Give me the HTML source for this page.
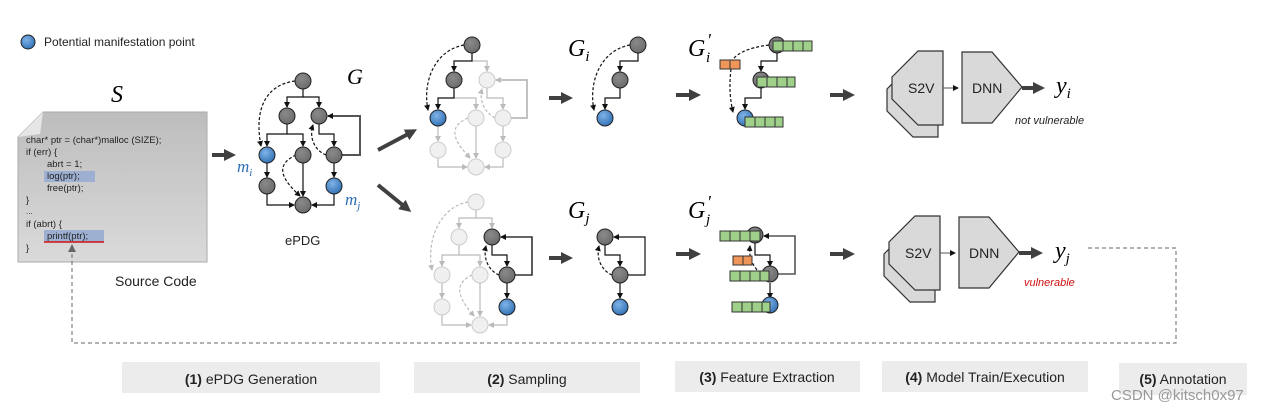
<!DOCTYPE html>
<html><head><meta charset="utf-8"><style>
body{margin:0;background:#fff;width:1264px;height:410px;overflow:hidden}
svg{display:block}
.it{font-family:"Liberation Serif",serif;font-style:italic}
.sans{font-family:"Liberation Sans",sans-serif}
</style></head><body>
<svg width="1264" height="410" viewBox="0 0 1264 410" xmlns="http://www.w3.org/2000/svg">
<defs>
<marker id="a" markerWidth="6" markerHeight="6" refX="5" refY="3" orient="auto" markerUnits="userSpaceOnUse"><path d="M0,0L6,3L0,6z" fill="#111"/></marker>
<marker id="g" markerWidth="6" markerHeight="6" refX="5" refY="3" orient="auto" markerUnits="userSpaceOnUse"><path d="M0,0L6,3L0,6z" fill="#bbb"/></marker>
<marker id="t" markerWidth="12" markerHeight="12" refX="4" refY="6" orient="auto" markerUnits="userSpaceOnUse"><path d="M0,0L12,6L0,12z" fill="#404040"/></marker>
<linearGradient id="pg" x1="0" y1="0" x2="0" y2="1"><stop offset="0" stop-color="#bdbdbd"/><stop offset="1" stop-color="#dadada"/></linearGradient>
<radialGradient id="bl" cx="0.4" cy="0.35" r="0.7"><stop offset="0" stop-color="#7fb3e6"/><stop offset="1" stop-color="#2f6fb5"/></radialGradient>
<radialGradient id="dk" cx="0.4" cy="0.35" r="0.7"><stop offset="0" stop-color="#8a8a8a"/><stop offset="1" stop-color="#6a6a6a"/></radialGradient>
</defs>
<g class="sans">
<circle cx="28" cy="42" r="7" fill="url(#bl)" stroke="#222" stroke-width="1"/>
<text x="44" y="46" font-size="12" fill="#222">Potential manifestation point</text>
</g>
<text x="111" y="102" class="it" font-size="24">S</text>
<polygon points="43,112 207,112 207,262 18,262 18,137" fill="url(#pg)" stroke="#aaa"/>
<polygon points="18,137 43,112 40,134" fill="#e6e6e6"/>
<rect x="44" y="171" width="51" height="11" fill="#9eb0d2"/>
<rect x="44" y="230" width="60" height="12" fill="#9eb0d2"/>
<line x1="44" y1="242" x2="104" y2="242" stroke="#d01010" stroke-width="1.5"/>
<g class="sans" font-size="9.5" fill="#222">
<text x="26" y="143">char* ptr = (char*)malloc (SIZE);</text>
<text x="26" y="155">if (err) {</text>
<text x="47" y="167">abrt = 1;</text>
<text x="47" y="179">log(ptr);</text>
<text x="47" y="191">free(ptr);</text>
<text x="26" y="203">}</text>
<text x="26" y="214" font-size="8">...</text>
<text x="26" y="227">if (abrt) {</text>
<text x="47" y="239">printf(ptr);</text>
<text x="26" y="251">}</text>
</g>
<text x="115" y="286" class="sans" font-size="14" fill="#222">Source Code</text>
<line x1="212" y1="155" x2="228" y2="155" stroke="#404040" stroke-width="4" marker-end="url(#t)"/>

<!-- ePDG -->
<g fill="none" stroke="#111" stroke-width="1.2">
<path d="M303,89V97H287V107" marker-end="url(#a)"/><path d="M303,97H319V107" marker-end="url(#a)"/>
<path d="M287,124V134H267V146" marker-end="url(#a)"/><path d="M287,134H303V146" marker-end="url(#a)"/>
<path d="M319,124V134H334V146" marker-end="url(#a)"/>
<path d="M342,155H360V116H328" stroke="#555" stroke-width="2" marker-end="url(#a)"/>
<path d="M267,163V177" marker-end="url(#a)"/><path d="M267,194V205H294" marker-end="url(#a)"/>
<path d="M334,194V205H312" marker-end="url(#a)"/><path d="M303,163V196" marker-end="url(#a)"/>
<path d="M334,163V177" marker-end="url(#a)"/>
<g stroke-dasharray="3,2"><path d="M295,81C265,85 254,110 261,146" marker-end="url(#a)"/><path d="M326,155C314,150 309,137 313,125" marker-end="url(#a)"/><path d="M296,155C272,166 285,182 300,196" marker-end="url(#a)"/></g>
</g>
<g stroke="#222" stroke-width="1">
<circle cx="303" cy="81" r="8" fill="url(#dk)"/><circle cx="287" cy="116" r="8" fill="url(#dk)"/><circle cx="319" cy="116" r="8" fill="url(#dk)"/>
<circle cx="267" cy="155" r="8" fill="url(#bl)"/><circle cx="303" cy="155" r="8" fill="url(#dk)"/><circle cx="334" cy="155" r="8" fill="url(#dk)"/>
<circle cx="267" cy="186" r="8" fill="url(#dk)"/><circle cx="334" cy="186" r="8" fill="url(#bl)"/><circle cx="303" cy="205" r="8" fill="url(#dk)"/>
</g>
<text x="347" y="84" class="it" font-size="22">G</text>
<text x="237" y="172" class="it" font-size="17" fill="#2f6fb5">m<tspan font-size="11" dy="4">i</tspan></text>
<text x="345" y="205" class="it" font-size="17" fill="#2f6fb5">m<tspan font-size="11" dy="4">j</tspan></text>
<text x="285" y="245" class="sans" font-size="13" fill="#222">ePDG</text>

<line x1="378" y1="150" x2="410" y2="133" stroke="#404040" stroke-width="4" marker-end="url(#t)"/>
<line x1="378" y1="185" x2="405" y2="207" stroke="#404040" stroke-width="4" marker-end="url(#t)"/>

<!-- Sampling top -->
<g fill="none" stroke="#bbb" stroke-width="1.2">
<path d="M472,53V61H487V71" marker-end="url(#g)"/>
<path d="M454,88V98H476V109" marker-end="url(#g)"/>
<path d="M487,88V98H503V109" marker-end="url(#g)"/>
<path d="M511,118H527V80H496" stroke-width="1.8" marker-end="url(#g)"/>
<path d="M438,126V141" marker-end="url(#g)"/><path d="M438,158V167H467" marker-end="url(#g)"/>
<path d="M503,158V167H485" marker-end="url(#g)"/><path d="M476,126V158" marker-end="url(#g)"/><path d="M503,126V141" marker-end="url(#g)"/>
<g stroke-dasharray="3,2"><path d="M495,118C484,112 479,100 482,89" marker-end="url(#g)"/><path d="M468,118C444,128 458,145 470,158" marker-end="url(#g)"/></g>
</g>
<g fill="none" stroke="#111" stroke-width="1.2">
<path d="M472,53V61H454V71" marker-end="url(#a)"/><path d="M454,88V98H438V109" marker-end="url(#a)"/>
<path d="M464,45C436,50 422,80 428,110" stroke-dasharray="3,2" marker-end="url(#a)"/>
</g>
<g stroke-width="1">
<circle cx="472" cy="45" r="8" fill="url(#dk)" stroke="#222"/><circle cx="454" cy="80" r="8" fill="url(#dk)" stroke="#222"/>
<circle cx="487" cy="80" r="8" fill="#f0f0f0" stroke="#ccc"/><circle cx="438" cy="118" r="8" fill="url(#bl)" stroke="#222"/>
<circle cx="476" cy="118" r="8" fill="#f0f0f0" stroke="#ccc"/><circle cx="503" cy="118" r="8" fill="#f0f0f0" stroke="#ccc"/>
<circle cx="438" cy="150" r="8" fill="#f0f0f0" stroke="#ccc"/><circle cx="503" cy="150" r="8" fill="#f0f0f0" stroke="#ccc"/>
<circle cx="476" cy="167" r="8" fill="#f0f0f0" stroke="#ccc"/>
</g>

<!-- Sampling bottom -->
<g fill="none" stroke="#bbb" stroke-width="1.2">
<path d="M476,210V218H459V228" marker-end="url(#g)"/><path d="M476,218H492V228" marker-end="url(#g)"/>
<path d="M459,245V255H442V266" marker-end="url(#g)"/><path d="M459,255H480V266" marker-end="url(#g)"/>
<path d="M442,283V298" marker-end="url(#g)"/><path d="M442,315V325H471" marker-end="url(#g)"/>
<path d="M507,315V325H489" marker-end="url(#g)"/><path d="M480,283V316" marker-end="url(#g)"/>
<g stroke-dasharray="3,2"><path d="M468,202C440,207 426,240 432,270" marker-end="url(#g)"/><path d="M472,275C450,285 462,302 474,316" marker-end="url(#g)"/></g>
</g>
<g fill="none" stroke="#111" stroke-width="1.2">
<path d="M492,245V255H507V266" marker-end="url(#a)"/>
<path d="M515,275H532V237H501" stroke="#333" stroke-width="1.6" marker-end="url(#a)"/>
<path d="M507,283V298" marker-end="url(#a)"/>
<path d="M499,275C488,270 483,258 486,246" stroke-dasharray="3,2" marker-end="url(#a)"/>
</g>
<g stroke-width="1">
<circle cx="476" cy="202" r="8" fill="#f0f0f0" stroke="#ccc"/><circle cx="459" cy="237" r="8" fill="#f0f0f0" stroke="#ccc"/>
<circle cx="492" cy="237" r="8" fill="url(#dk)" stroke="#222"/><circle cx="442" cy="275" r="8" fill="#f0f0f0" stroke="#ccc"/>
<circle cx="480" cy="275" r="8" fill="#f0f0f0" stroke="#ccc"/><circle cx="507" cy="275" r="8" fill="url(#dk)" stroke="#222"/>
<circle cx="442" cy="307" r="8" fill="#f0f0f0" stroke="#ccc"/><circle cx="507" cy="307" r="8" fill="url(#bl)" stroke="#222"/>
<circle cx="480" cy="325" r="8" fill="#f0f0f0" stroke="#ccc"/>
</g>

<line x1="549" y1="98" x2="565" y2="98" stroke="#404040" stroke-width="4" marker-end="url(#t)"/>
<line x1="549" y1="258" x2="565" y2="258" stroke="#404040" stroke-width="4" marker-end="url(#t)"/>

<!-- Gi -->
<text x="568" y="56" class="it" font-size="24">G<tspan font-size="15" dy="5">i</tspan></text>
<g fill="none" stroke="#111" stroke-width="1.2">
<path d="M638,53V61H620V71" marker-end="url(#a)"/><path d="M620,88V98H605V109" marker-end="url(#a)"/>
<path d="M630,45C602,50 588,80 594,110" stroke-dasharray="3,2" marker-end="url(#a)"/>
</g>
<circle cx="638" cy="45" r="8" fill="url(#dk)" stroke="#222"/><circle cx="620" cy="80" r="8" fill="url(#dk)" stroke="#222"/><circle cx="605" cy="118" r="8" fill="url(#bl)" stroke="#222"/>

<!-- Gj -->
<text x="568" y="218" class="it" font-size="24">G<tspan font-size="15" dy="5">j</tspan></text>
<g fill="none" stroke="#111" stroke-width="1.2">
<path d="M605,245V255H620V266" marker-end="url(#a)"/>
<path d="M628,275H645V237H614" marker-end="url(#a)"/>
<path d="M620,283V298" marker-end="url(#a)"/>
<path d="M612,275C601,270 596,258 599,246" stroke-dasharray="3,2" marker-end="url(#a)"/>
</g>
<circle cx="605" cy="237" r="8" fill="url(#dk)" stroke="#222"/><circle cx="620" cy="275" r="8" fill="url(#dk)" stroke="#222"/><circle cx="620" cy="307" r="8" fill="url(#bl)" stroke="#222"/>

<line x1="676" y1="95" x2="693" y2="95" stroke="#404040" stroke-width="4" marker-end="url(#t)"/>
<line x1="676" y1="254" x2="693" y2="254" stroke="#404040" stroke-width="4" marker-end="url(#t)"/>

<!-- G'i -->
<text x="688" y="56" class="it" font-size="24">G</text>
<text x="707" y="46" class="it" font-size="18">′</text>
<text x="706" y="62" class="it" font-size="15">i</text>
<g fill="none" stroke="#111" stroke-width="1.2">
<path d="M777,53V61H761V71" marker-end="url(#a)"/><path d="M761,88V98H745V109" marker-end="url(#a)"/>
<path d="M769,45C745,48 735,55 731,62" stroke-dasharray="3,2"/>
<path d="M731,69C729,85 730,100 733,112" stroke-dasharray="3,2" marker-end="url(#a)"/>
</g>
<circle cx="777" cy="45" r="8" fill="url(#dk)" stroke="#222"/><circle cx="761" cy="80" r="8" fill="url(#dk)" stroke="#222"/><circle cx="745" cy="118" r="8" fill="url(#bl)" stroke="#222"/>
<g stroke="#333" stroke-width="1" fill="#9fd08a">
<rect x="773" y="41" width="10" height="10"/><rect x="783" y="41" width="10" height="10"/><rect x="793" y="41" width="10" height="10"/><rect x="803" y="41" width="9" height="10"/>
<rect x="757" y="77" width="10" height="10"/><rect x="767" y="77" width="10" height="10"/><rect x="777" y="77" width="10" height="10"/><rect x="787" y="77" width="8" height="10"/>
<rect x="745" y="117" width="10" height="10"/><rect x="755" y="117" width="10" height="10"/><rect x="765" y="117" width="10" height="10"/><rect x="775" y="117" width="8" height="10"/>
</g>
<g stroke="#333" stroke-width="1" fill="#f0965a"><rect x="720" y="60" width="10" height="9"/><rect x="730" y="60" width="10" height="9"/></g>

<!-- G'j -->
<text x="688" y="218" class="it" font-size="24">G</text>
<text x="707" y="208" class="it" font-size="18">′</text>
<text x="706" y="224" class="it" font-size="15">j</text>
<g fill="none" stroke="#111" stroke-width="1.2">
<path d="M755,243V255H770V266" marker-end="url(#a)"/>
<path d="M778,274H795V236H764" stroke="#555" stroke-width="1.6" marker-end="url(#a)"/>
<path d="M770,283V298" marker-end="url(#a)"/>
<path d="M757,270C751,262 749,256 750,246" stroke-dasharray="3,2" marker-end="url(#a)"/>
</g>
<circle cx="755" cy="235" r="8" fill="url(#dk)" stroke="#222"/><circle cx="770" cy="274" r="8" fill="url(#dk)" stroke="#222"/><circle cx="770" cy="305" r="8" fill="url(#bl)" stroke="#222"/>
<g stroke="#333" stroke-width="1" fill="#9fd08a">
<rect x="720" y="231" width="10" height="10"/><rect x="730" y="231" width="10" height="10"/><rect x="740" y="231" width="10" height="10"/><rect x="750" y="231" width="10" height="10"/>
<rect x="730" y="271" width="10" height="10"/><rect x="740" y="271" width="10" height="10"/><rect x="750" y="271" width="10" height="10"/><rect x="760" y="271" width="9" height="10"/>
<rect x="732" y="302" width="10" height="10"/><rect x="742" y="302" width="10" height="10"/><rect x="752" y="302" width="10" height="10"/><rect x="762" y="302" width="8" height="10"/>
</g>
<g stroke="#333" stroke-width="1" fill="#f0965a"><rect x="733" y="256" width="10" height="9"/><rect x="743" y="256" width="9" height="9"/></g>

<line x1="830" y1="95" x2="847" y2="95" stroke="#404040" stroke-width="4" marker-end="url(#t)"/>
<line x1="830" y1="254" x2="847" y2="254" stroke="#404040" stroke-width="4" marker-end="url(#t)"/>

<!-- models -->
<g stroke="#333" stroke-width="1.2" fill="#d9d9d9">
<polygon points="913,63 938,63 938,137 913,137 887,111 887,89"/>
<polygon points="918,51 943,51 943,125 918,125 892,99 892,77"/>
<polygon points="962,52 992,52 1022,87 992,123 962,123"/>
<polygon points="910,228 935,228 935,302 910,302 884,276 884,254"/>
<polygon points="915,216 940,216 940,290 915,290 889,264 889,242"/>
<polygon points="959,217 989,217 1019,252 989,288 959,288"/>
</g>
<g fill="none" stroke="#555" stroke-width="1"><line x1="943" y1="88" x2="958" y2="88" marker-end="url(#a)"/><line x1="940" y1="253" x2="955" y2="253" marker-end="url(#a)"/></g>
<g class="sans" font-size="14" fill="#222"><text x="908" y="93">S2V</text><text x="972" y="93">DNN</text><text x="905" y="258">S2V</text><text x="969" y="258">DNN</text></g>
<line x1="1022" y1="88" x2="1037" y2="88" stroke="#404040" stroke-width="4" marker-end="url(#t)"/>
<line x1="1019" y1="253" x2="1035" y2="253" stroke="#404040" stroke-width="4" marker-end="url(#t)"/>
<text x="1056" y="93" class="it" font-size="24">y<tspan font-size="15" dy="5">i</tspan></text>
<text x="1055" y="258" class="it" font-size="24">y<tspan font-size="15" dy="5">j</tspan></text>
<text x="1015" y="124" class="sans" font-size="11" font-style="italic" fill="#222">not vulnerable</text>
<text x="1024" y="286" class="sans" font-size="11" font-style="italic" fill="#d01010">vulnerable</text>

<path d="M1088,248H1176V343H72V250" fill="none" stroke="#666" stroke-width="1" stroke-dasharray="4,3"/>
<path d="M68,252L72,244L76,252z" fill="#666"/>

<g fill="#ececec"><rect x="122" y="362" width="258" height="31"/><rect x="414" y="362" width="226" height="31"/><rect x="675" y="361" width="185" height="31"/><rect x="882" y="361" width="206" height="31"/><rect x="1119" y="363" width="128" height="32"/></g>
<g class="sans" font-size="14" fill="#222" text-anchor="middle">
<text x="251" y="384"><tspan font-weight="bold">(1)</tspan> ePDG Generation</text>
<text x="527" y="384"><tspan font-weight="bold">(2)</tspan> Sampling</text>
<text x="767" y="382"><tspan font-weight="bold">(3)</tspan> Feature Extraction</text>
<text x="985" y="382"><tspan font-weight="bold">(4)</tspan> Model Train/Execution</text>
<text x="1183" y="384"><tspan font-weight="bold">(5)</tspan> Annotation</text>
</g>
<text x="1111" y="400" class="sans" font-size="15" fill="#999">CSDN @kitsch0x97</text>
</svg>
</body></html>
